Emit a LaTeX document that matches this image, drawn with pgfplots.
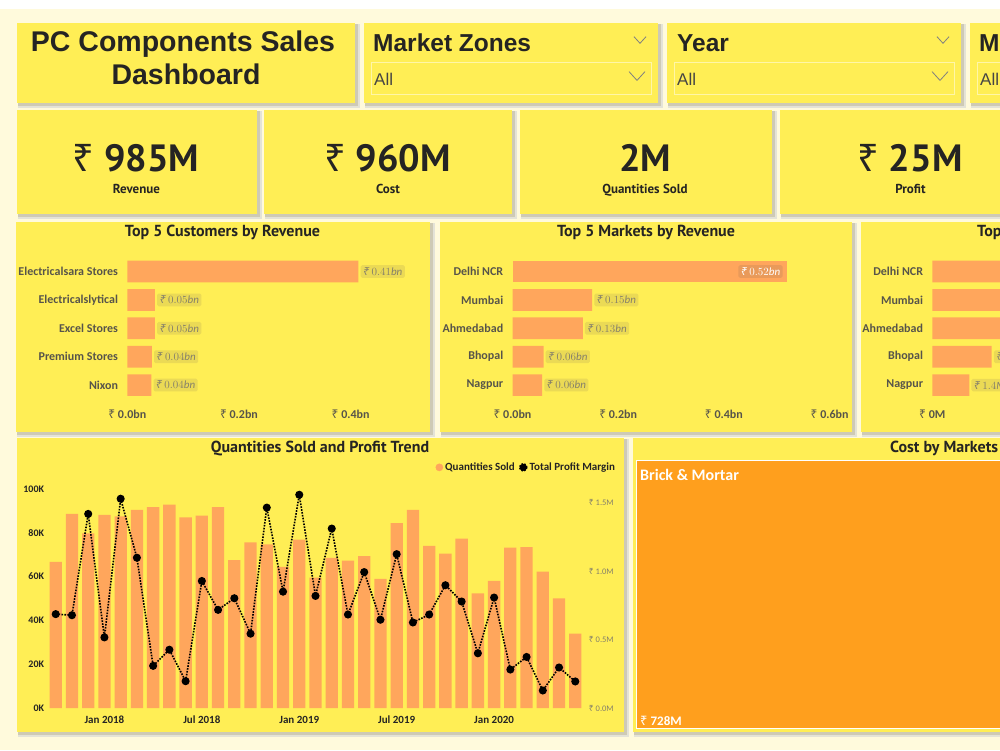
\documentclass[border=0pt]{standalone}
\usepackage{pgfplots}
\pgfplotsset{compat=1.18}
\usepackage{fontspec}
\setmainfont{Carlito}
\newfontfamily\din{PT Sans}
\newfontfamily\hdr{Liberation Sans}
\newfontfamily\rupf{Noto Sans}
\newcommand\rs{{\rupf ₹}}
\newcommand\fs[1]{\fontsize{#1}{#1}\selectfont}

\definecolor{bgcream}{HTML}{FFFADC}
\definecolor{cardy}{HTML}{FFEE55}
\definecolor{baror}{HTML}{FFA65C}
\definecolor{treeor}{HTML}{FF9F1D}
\definecolor{txt}{HTML}{252423}
\definecolor{gtxt}{HTML}{57544A}
\definecolor{lblbg}{HTML}{EBDA55}
\definecolor{lbltxt}{HTML}{85806A}
\definecolor{shad}{HTML}{BDB99C}
\definecolor{boxln}{HTML}{FFF6A8}
\definecolor{inlbl}{HTML}{E99A5A}

% card with soft shadow, corners in pixels (y down)
\newcommand\card[4]{%
  \fill[shad!40] (#1+1,#2+1) rectangle (#3+5,#4+5);
  \fill[shad!75] (#1+1,#2+1) rectangle (#3+3,#4+3);
  \fill[cardy] (#1,#2) rectangle (#3,#4);}
\newcommand\chev[3]{\draw[gray, line width=0.8pt] (#1-#3,#2-#3*0.55) -- (#1,#2+#3*0.55) -- (#1+#3,#2-#3*0.55);}

\pgfplotsset{
  hbar/.style={xbar, scale only axis, bar width=21.7pt, bar shift=0pt,
    y dir=reverse, ymin=-0.5, ymax=4.5, ytick={0,...,4}, height=142pt,
    anchor=north west, axis line style={draw=none}, tick style={draw=none},
    point meta=x, clip=false,
    yticklabel style={font=\bfseries\fs{12}, text=gtxt, xshift=-1.5pt},
    xticklabel style={font=\bfseries\fs{12}, text=gtxt, yshift=-7pt},
    every node near coord/.append style={font=\itshape\fs{11}, text=lbltxt,
      fill=lblbg, rounded corners=1.5pt, inner sep=2.4pt, anchor=west, xshift=2pt}},
}

\begin{document}
\begin{tikzpicture}
\useasboundingbox (0pt,0pt) rectangle (1000pt,-750pt);
\clip (0pt,0pt) rectangle (1000pt,-750pt);
\begin{scope}[x=1pt,y=-1pt]
\fill[bgcream] (0,0) rectangle (1000,750);
\fill[white] (0,0) rectangle (1000,9);

% ---- top row
\card{17}{23}{355}{103}
\node[font=\hdr\bfseries\fs{28.5}, text=txt] at (183,44.5) {PC Components Sales};
\node[font=\hdr\bfseries\fs{28.5}, text=txt] at (186,74.5) {Dashboard};

\card{364}{23}{658}{103}
\node[font=\hdr\bfseries\fs{24.5}, text=txt, anchor=west, inner sep=0] at (373,43) {Market Zones};
\chev{640}{40}{6}
\draw[boxln, line width=1pt] (371,62) rectangle (651,94);
\node[font=\hdr\fs{17}, text=txt!85, anchor=west, inner sep=0] at (374,79) {All};
\chev{637}{76}{8}

\card{667}{23}{961}{103}
\node[font=\hdr\bfseries\fs{24.5}, text=txt, anchor=west, inner sep=0] at (677,43) {Year};
\chev{943}{40}{6}
\draw[boxln, line width=1pt] (674,62) rectangle (954,94);
\node[font=\hdr\fs{17}, text=txt!85, anchor=west, inner sep=0] at (677,79) {All};
\chev{940}{76}{8}

\card{970}{23}{1100}{103}
\node[font=\hdr\bfseries\fs{24.5}, text=txt, anchor=west, inner sep=0] at (979,43) {Month};
\draw[boxln, line width=1pt] (977,62) rectangle (1100,94);
\node[font=\hdr\fs{17}, text=txt!85, anchor=west, inner sep=0] at (980,79) {All};

% ---- KPI row
\card{17}{110}{257}{214}
\card{264}{110}{512}{214}
\card{520}{110}{772}{214}
\card{780}{110}{1100}{214}
\node[font=\din\bfseries\fs{38}, text=txt] at (136,158) {\rs\ 985M};
\node[font=\din\bfseries\fs{13}, text=txt, anchor=base] at (136.5,193.5) {Revenue};
\node[font=\din\bfseries\fs{38}, text=txt] at (387.5,158) {\rs\ 960M};
\node[font=\din\bfseries\fs{13}, text=txt, anchor=base] at (388,193.5) {Cost};
\node[font=\din\bfseries\fs{38}, text=txt] at (645,158) {2M};
\node[font=\din\bfseries\fs{13}, text=txt, anchor=base] at (645,193.5) {Quantities Sold};
\node[font=\din\bfseries\fs{38}, text=txt] at (910,158) {\rs\ 25M};
\node[font=\din\bfseries\fs{13}, text=txt, anchor=base] at (910.5,193.5) {Profit};

% ---- bar chart row
\card{16}{222}{430}{432}
\card{440}{222}{852}{432}
\card{861}{222}{1300}{432}
\node[font=\din\bfseries\fs{16}, text=txt] at (222.5,232) {Top 5 Customers by Revenue};
\node[font=\din\bfseries\fs{16}, text=txt] at (646,232) {Top 5 Markets by Revenue};
\node[font=\din\bfseries\fs{16}, text=txt, anchor=west, inner sep=0] at (977,232) {Top 5 Markets by Profit};

% ---- bottom row
\card{17}{438}{624}{732}
\node[font=\din\bfseries\fs{16}, text=txt] at (320,448) {Quantities Sold and Profit Trend};
\card{633}{438}{1100}{732}
\node[font=\din\bfseries\fs{16}, text=txt, anchor=west, inner sep=0] at (890,448.5) {Cost by Markets};
\end{scope}

\begin{axis}[hbar, at={(127.3pt,-257.3pt)}, width=279.2pt, xmin=0, xmax=0.5,
  yticklabels={Electricalsara Stores, Electricalslytical, Excel Stores, Premium Stores, Nixon},
  xtick={0,0.2,0.4}, xticklabels={\rs\ 0.0bn, \rs\ 0.2bn, \rs\ 0.4bn},
  nodes near coords={\rs\ \pgfmathprintnumber[fixed,fixed zerofill,precision=2]{\pgfplotspointmeta}bn}]
\addplot[fill=baror, draw=none] coordinates {(0.414,0) (0.0496,1) (0.0496,2) (0.044,3) (0.043,4)};
\end{axis}

\begin{axis}[hbar, at={(512.5pt,-257.3pt)}, width=317.1pt, xmin=0, xmax=0.6,
  yticklabels={Delhi NCR, Mumbai, Ahmedabad, Bhopal, Nagpur},
  xtick={0,0.2,0.4,0.6}, xticklabels={\rs\ 0.0bn, \rs\ 0.2bn, \rs\ 0.4bn, \rs\ 0.6bn}]
\addplot[fill=baror, draw=none,
  nodes near coords={\rs\ \pgfmathprintnumber[fixed,fixed zerofill,precision=2]{\pgfplotspointmeta}bn},
  every node near coord/.append style={anchor=east, xshift=-6pt, fill=inlbl, text=white}]
  coordinates {(0.519,0)};
\addplot[fill=baror, draw=none,
  nodes near coords={\rs\ \pgfmathprintnumber[fixed,fixed zerofill,precision=2]{\pgfplotspointmeta}bn}]
  coordinates {(0.1506,1) (0.133,2) (0.0587,3) (0.056,4)};
\end{axis}

\begin{axis}[hbar, at={(932.3pt,-257.3pt)}, width=264pt, xmin=0, xmax=10,
  yticklabels={Delhi NCR, Mumbai, Ahmedabad, Bhopal, Nagpur},
  xtick={0,5,10}, xticklabels={\rs\ 0M, \rs\ 5M, \rs\ 10M},
  nodes near coords={\rs\ \pgfmathprintnumber[fixed,fixed zerofill,precision=1]{\pgfplotspointmeta}M}]
\addplot[fill=baror, draw=none] coordinates {(6.5,0) (4.1,1) (3.6,2) (2.25,3) (1.4,4)};
\end{axis}

% ---- trend chart
\begin{axis}[at={(47.6pt,-489pt)}, anchor=north west, scale only axis,
  width=535.8pt, height=219pt, xmin=-0.5, xmax=32.5, ymin=0, ymax=100000,
  ybar, bar width=12.3pt, bar shift=0pt,
  axis line style={draw=none}, tick style={draw=none},
  xtick={3,9,15,21,27}, xticklabels={Jan 2018, Jul 2018, Jan 2019, Jul 2019, Jan 2020},
  ytick={0,20000,40000,60000,80000,100000}, yticklabels={0K,20K,40K,60K,80K,100K},
  scaled y ticks=false,
  xticklabel style={font=\bfseries\fs{11}, text=txt},
  yticklabel style={font=\bfseries\fs{10}, text=txt}]
\addplot[fill=baror, draw=none] table[x=i, y=q] {
i q
0 66700
1 88700
2 79700
3 88200
4 87500
5 90500
6 91700
7 92900
8 87100
9 87900
10 91700
11 67500
12 75600
13 74700
14 64400
15 76900
16 59500
17 68500
18 67300
19 69300
20 59000
21 84400
22 90500
23 74000
24 70500
25 77300
26 52300
27 58100
28 73200
29 73500
30 62300
31 50100
32 34000
};
\end{axis}

\begin{axis}[at={(47.6pt,-489pt)}, anchor=north west, scale only axis,
  width=535.8pt, height=219pt, xmin=-0.5, xmax=32.5, ymin=0, ymax=1.6,
  axis line style={draw=none}, tick style={draw=none}, clip=false,
  xtick=\empty, yticklabel pos=right,
  ytick={0,0.5,1,1.5}, yticklabels={\rs\ 0.0M, \rs\ 0.5M, \rs\ 1.0M, \rs\ 1.5M},
  yticklabel style={font=\fs{8.5}, text=lbltxt, xshift=2pt},
  legend columns=2, legend cell align=left,
  legend style={at={(1.063,1.13)}, anchor=north east, draw=none, fill=none,
    font=\bfseries\fs{11}, text=txt, inner sep=0pt,
    /tikz/every even column/.append style={column sep=2pt}}]
\addlegendimage{legend image code/.code={\fill[baror] (0pt,0pt) circle (3.6pt);}}
\addlegendentry{Quantities Sold}
\addplot[black, line width=1.6pt, dash pattern=on 1.6pt off 1.3pt,
  mark=*, mark size=3.2pt, mark options={solid},
  legend image code/.code={\fill[black] (0pt,0pt) circle (3.6pt);}]
  table[x=i, y=p] {
i p
0 0.686
1 0.678
2 1.418
3 0.516
4 1.529
5 1.098
6 0.308
7 0.426
8 0.196
9 0.928
10 0.717
11 0.802
12 0.543
13 1.464
14 0.850
15 1.558
16 0.819
17 1.311
18 0.683
19 0.993
20 0.645
21 1.124
22 0.625
23 0.683
24 0.897
25 0.778
26 0.400
27 0.807
28 0.281
29 0.373
30 0.128
31 0.296
32 0.194
};
\addlegendentry{Total Profit Margin}
\end{axis}

% ---- treemap
\begin{axis}[at={(636.7pt,-460pt)}, anchor=north west, scale only axis,
  width=488pt, height=268.3pt, xmin=0, xmax=960, ymin=0, ymax=1, hide axis, clip=false]
\addplot[fill=treeor, draw=white, line width=0.8pt] coordinates {(0,1) (728,1)} \closedcycle;
\addplot[fill=treeor!70, draw=white, line width=0.8pt] coordinates {(728,1) (960,1)} \closedcycle;
\end{axis}
\begin{scope}[x=1pt,y=-1pt]
\node[font=\bfseries\fs{16}, text=white, anchor=west, inner sep=0] at (640,475) {Brick \& Mortar};
\node[font=\bfseries\fs{13}, text=white, anchor=west, inner sep=0] at (640,720.5) {\rs\ 728M};
\end{scope}

\end{tikzpicture}
\end{document}
